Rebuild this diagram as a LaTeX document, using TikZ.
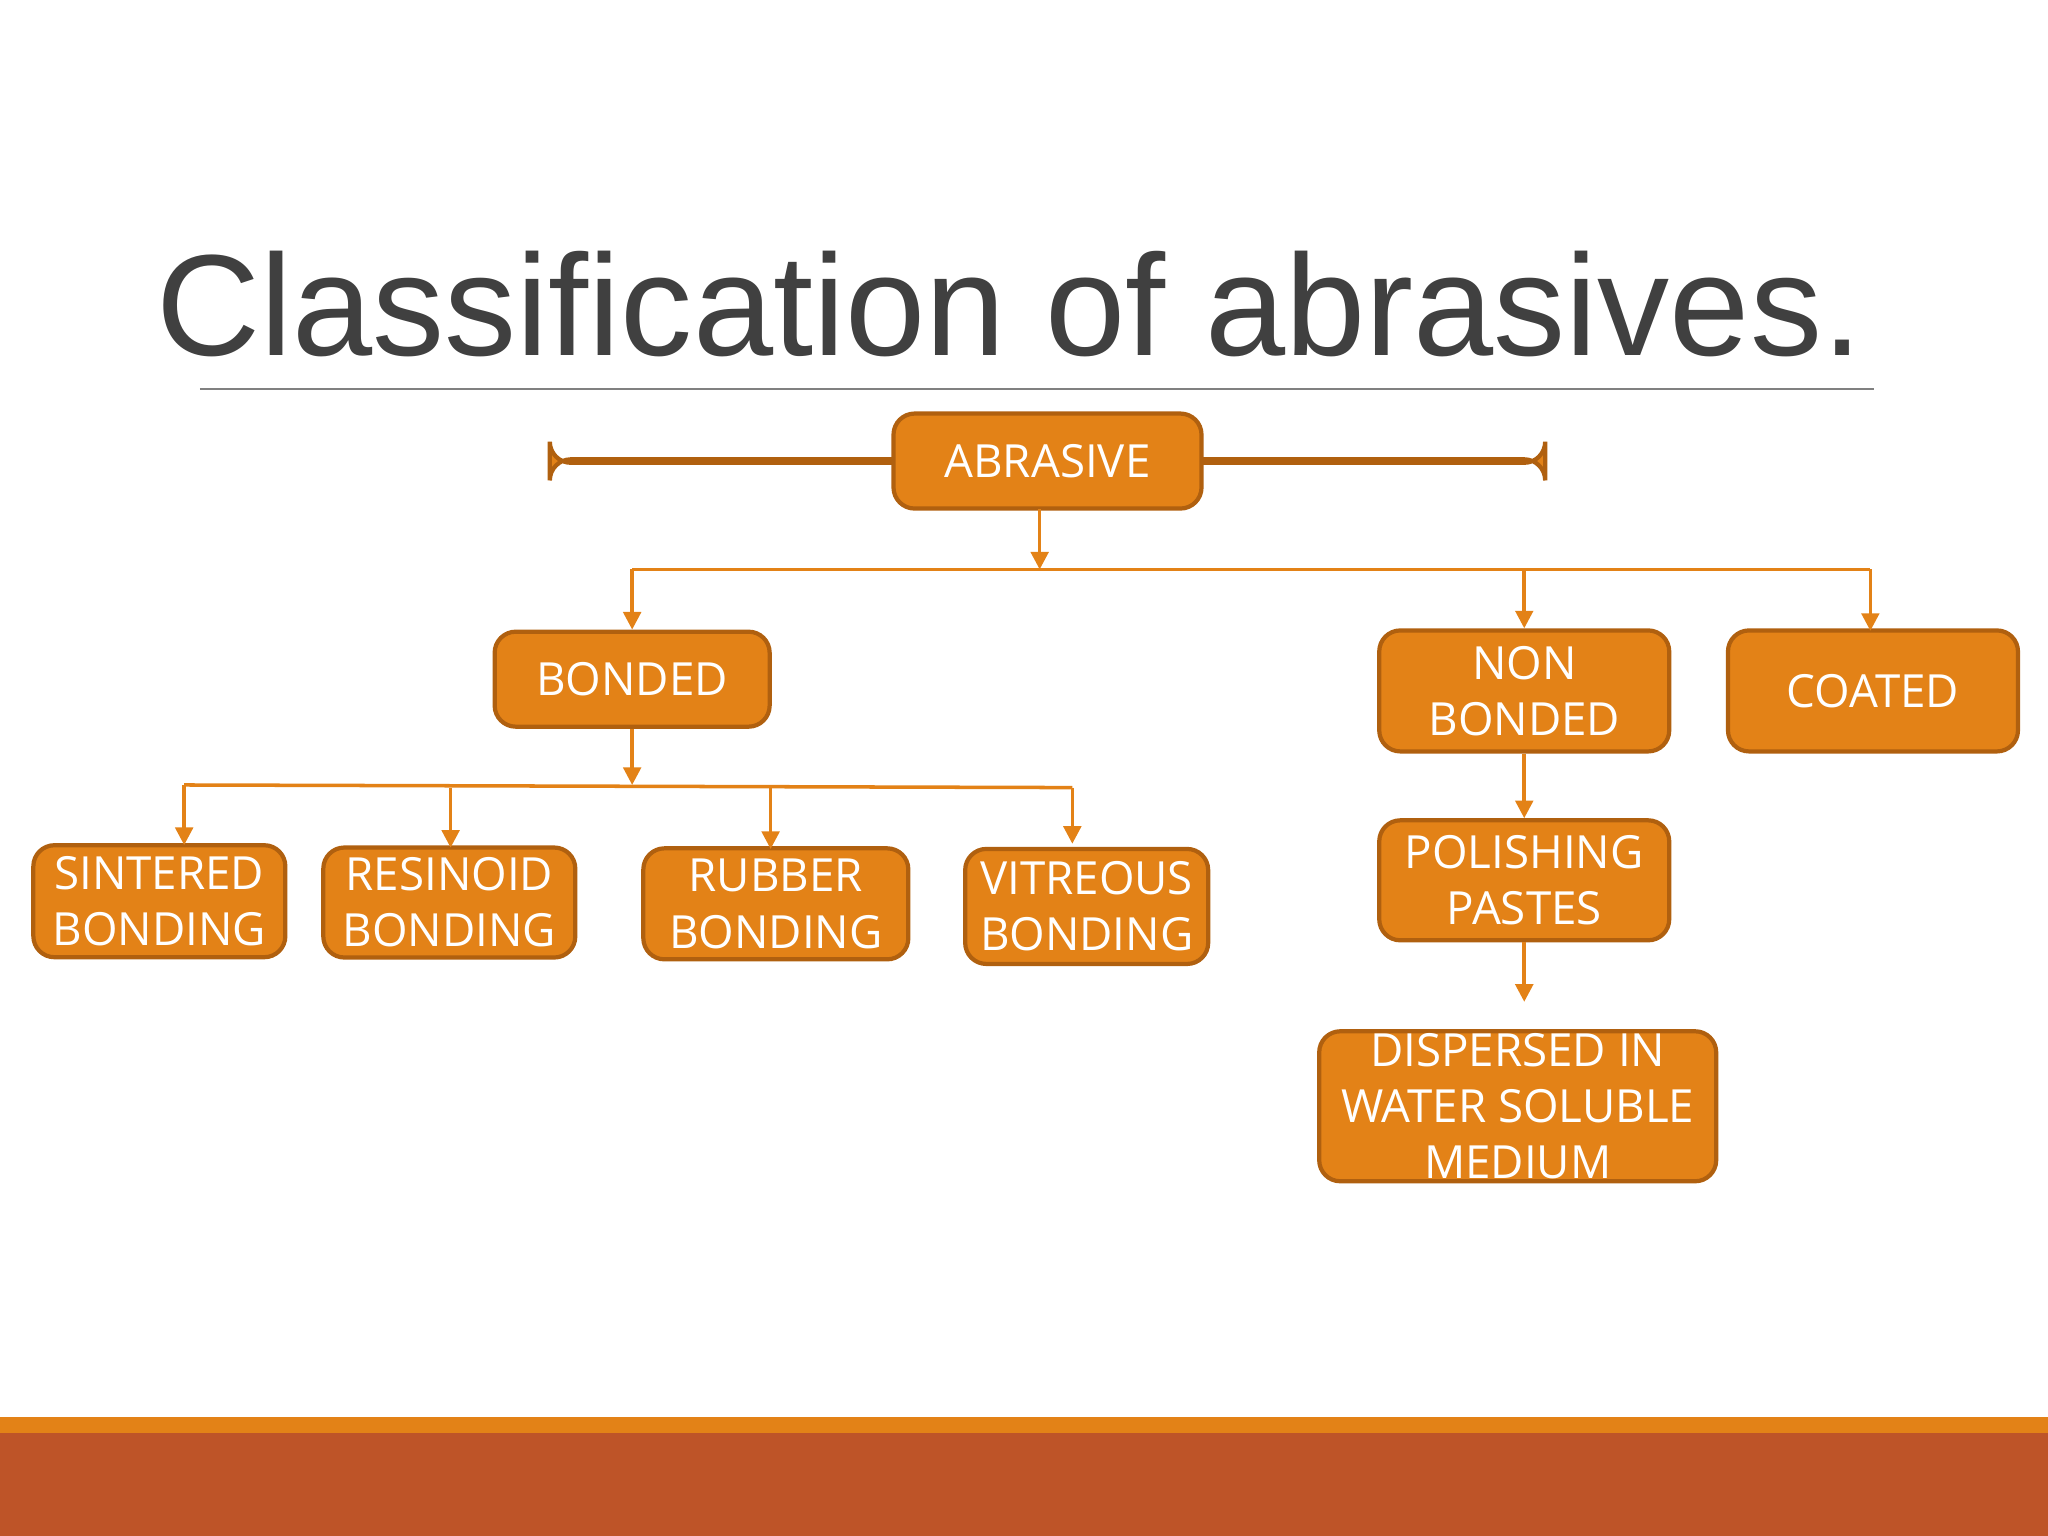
\documentclass[tikz,border=0pt]{standalone}
\usepackage{fontspec}
\setmainfont{Open Sans}
\newfontfamily\titlefont{Liberation Sans}
\usetikzlibrary{arrows.meta}
\definecolor{boxorange}{HTML}{E38217}
\definecolor{boxedge}{HTML}{B0600F}
\definecolor{rust}{HTML}{BE5428}
\definecolor{titlegray}{HTML}{404040}
\tikzset{
  abox/.style={draw=boxedge, line width=1.2pt, fill=boxorange, rounded corners=6pt,
    text=white, font=\fontsize{13}{16}\selectfont, align=center, inner sep=0pt},
  link/.style={draw=boxorange, line width=1pt},
  arr/.style={link, -{Triangle[length=5pt,width=5pt]}}
}
\begin{document}
\begin{tikzpicture}[x=0.01306cm,y=-0.01306cm]
  \useasboundingbox (0,0) rectangle (1568,1176);
  % title and rule
  \node[font=\titlefont\fontsize{41}{48}\selectfont, text=titlegray] (title) at (773,233) {Classification of abrasives.};
  \draw[gray, line width=0.6pt] (153,298) -- (1435,298);

  % boxes
  \node[abox, minimum width=236\pgflinewidth, text width=3cm] (abrasive) at (802,353) {};
  \node[abox, minimum width=3.08cm, minimum height=0.95cm] (abr) at (802,353) {ABRASIVE};
  \node[abox, minimum width=2.75cm, minimum height=0.95cm] (bonded) at (484,520) {BONDED};
  \node[abox, minimum width=2.9cm, minimum height=1.21cm] (nonbonded) at (1167,529) {NON\\BONDED};
  \node[abox, minimum width=2.9cm, minimum height=1.21cm] (coated) at (1434,529) {COATED};
  \node[abox, minimum width=2.52cm, minimum height=1.12cm] (sintered) at (122,690) {SINTERED\\BONDING};
  \node[abox, minimum width=2.52cm, minimum height=1.1cm] (resinoid) at (344,691) {RESINOID\\BONDING};
  \node[abox, minimum width=2.65cm, minimum height=1.11cm] (rubber) at (594,692) {RUBBER\\BONDING};
  \node[abox, minimum width=2.43cm, minimum height=1.15cm] (vitreous) at (832,694) {VITREOUS\\BONDING};
  \node[abox, minimum width=2.9cm, minimum height=1.2cm] (polishing) at (1167,674) {POLISHING\\PASTES};
  \node[abox, minimum width=3.97cm, minimum height=1.5cm] (dispersed) at (1162,847) {DISPERSED IN\\WATER SOLUBLE\\MEDIUM};

  % connectors
  \coordinate (hubtop) at (796,436);
  \coordinate (lefttop) at (484,436);
  \coordinate (righttop) at (1432,436);
  \draw[arr] (796,390) -- (hubtop);
  \draw[link] (lefttop) -- (righttop);
  \draw[arr] (lefttop) -- (bonded.north);
  \draw[arr] (1167,436) -- (nonbonded.north);
  \draw[arr] (righttop) -- (1432,483);

  \coordinate (hubmid) at (484,601);
  \draw[arr] (bonded.south) -- (hubmid);
  \draw[link] (141,601) -- (821,603);
  \draw[arr] (141,601) -- (141,647);
  \draw[arr] (345,603) -- (345,649);
  \draw[arr] (590,603) -- (590,650);
  \draw[arr] (821,603) -- (821,646);

  \coordinate (dispend) at (1167,767);
  \draw[arr] (nonbonded.south) -- (polishing.north);
  \draw[arr] (polishing.south) -- (dispend);

  % bottom band
  \fill[boxorange] (0,1085) rectangle (1568,1097);
  \fill[rust] (0,1097) rectangle (1568,1176);
\end{tikzpicture}
\end{document}
